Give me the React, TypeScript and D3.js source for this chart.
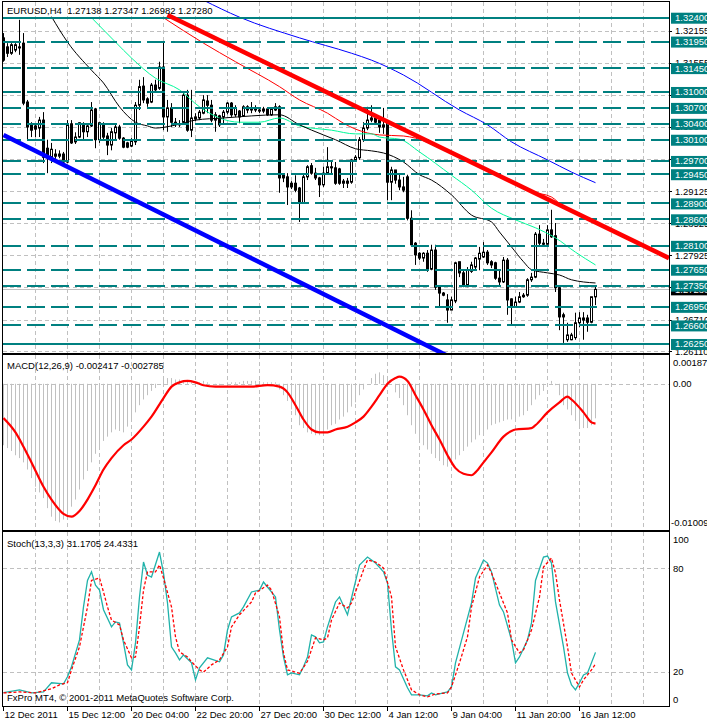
import React from 'react';
import * as d3 from 'd3';

// chart header texts
const chartTitle = 'EURUSD,H4  1.27138 1.27347 1.26982 1.27280';
const macdTitle = 'MACD(12,26,9) -0.002417 -0.002785';
const stochTitle = 'Stoch(13,3,3) 31.1705 24.4331';
const copyright = 'FxPro MT4, \u00a9 2001-2011 MetaQuotes Software Corp.';

// time axis
const timeLabels = ['12 Dec 2011', '15 Dec 12:00', '20 Dec 04:00', '22 Dec 20:00', '27 Dec 20:00',
  '30 Dec 12:00', '4 Jan 12:00', '9 Jan 04:00', '11 Jan 20:00', '16 Jan 12:00'];
const timeLabelBars = [0, 16, 32, 48, 64, 80, 96, 112, 128, 144];

// H4 candles
const openPrices = [
  1.3202, 1.3185, 1.3173, 1.3179, 1.3185, 1.3192, 1.3081, 1.3038, 1.3036, 1.3032,
  1.3047, 1.2994, 1.2977, 1.2983, 1.2979, 1.2983, 1.2968, 1.3040, 1.3006, 1.3015,
  1.3038, 1.3025, 1.3036, 1.3068, 1.3010, 1.3040, 1.3017, 1.3000, 1.3023, 1.3034,
  1.3013, 1.3004, 1.2998, 1.3006, 1.3075, 1.3111, 1.3087, 1.3081, 1.3113, 1.3107,
  1.3147, 1.3053, 1.3070, 1.3043, 1.3040, 1.3043, 1.3094, 1.3028, 1.3049, 1.3051,
  1.3060, 1.3083, 1.3075, 1.3047, 1.3055, 1.3053, 1.3062, 1.3079, 1.3057, 1.3064,
  1.3055, 1.3072, 1.3066, 1.3070, 1.3066, 1.3064, 1.3068, 1.3057, 1.3066, 1.3072,
  1.2944, 1.2940, 1.2928, 1.2928, 1.2919, 1.2891, 1.2940, 1.2961, 1.2947, 1.2938,
  1.2925, 1.2947, 1.2959, 1.2957, 1.2955, 1.2928, 1.2932, 1.2930, 1.2972, 1.2976,
  1.3010, 1.3032, 1.3047, 1.3051, 1.3047, 1.3034, 1.3042, 1.2930, 1.2953, 1.2934,
  1.2921, 1.2940, 1.2862, 1.2815, 1.2796, 1.2787, 1.2796, 1.2766, 1.2802, 1.2732,
  1.2721, 1.2708, 1.2689, 1.2706, 1.2780, 1.2759, 1.2736, 1.2762, 1.2770, 1.2785,
  1.2789, 1.2798, 1.2780, 1.2778, 1.2749, 1.2742, 1.2783, 1.2710, 1.2695, 1.2704,
  1.2714, 1.2717, 1.2746, 1.2751, 1.2832, 1.2815, 1.2813, 1.2840, 1.2829, 1.2731,
  1.2680, 1.2633, 1.2633, 1.2637, 1.2665, 1.2670, 1.2674, 1.2666, 1.27138,
];
const highPrices = [
  1.3211, 1.3192, 1.3192, 1.3192, 1.3236, 1.3211, 1.3085, 1.3043, 1.3041, 1.3053,
  1.3062, 1.3010, 1.3004, 1.2992, 1.2990, 1.2987, 1.3047, 1.3047, 1.3024, 1.3043,
  1.3043, 1.3041, 1.3081, 1.3070, 1.3043, 1.3043, 1.3023, 1.3032, 1.3038, 1.3038,
  1.3015, 1.3006, 1.3013, 1.3081, 1.3123, 1.3128, 1.3090, 1.3117, 1.3123, 1.3157,
  1.3194, 1.3085, 1.3079, 1.3051, 1.3047, 1.3098, 1.3104, 1.3104, 1.3060, 1.3066,
  1.3094, 1.3094, 1.3085, 1.3062, 1.3057, 1.3066, 1.3081, 1.3081, 1.3075, 1.3066,
  1.3075, 1.3075, 1.3081, 1.3075, 1.3070, 1.3072, 1.3070, 1.3070, 1.3079, 1.3075,
  1.2947, 1.2947, 1.2932, 1.2943, 1.2921, 1.2944, 1.2962, 1.2966, 1.2957, 1.2940,
  1.2959, 1.2996, 1.2968, 1.2968, 1.2957, 1.2936, 1.2938, 1.2974, 1.2981, 1.3015,
  1.3043, 1.3072, 1.3075, 1.3055, 1.3051, 1.3070, 1.3043, 1.2959, 1.2953, 1.2947,
  1.2940, 1.2944, 1.2877, 1.2817, 1.2798, 1.2798, 1.2802, 1.2812, 1.2812, 1.2736,
  1.2723, 1.2719, 1.2714, 1.2780, 1.2780, 1.2764, 1.2770, 1.2780, 1.2789, 1.2808,
  1.2817, 1.2802, 1.2783, 1.2780, 1.2764, 1.2789, 1.2787, 1.2711, 1.2714, 1.2723,
  1.2721, 1.2749, 1.2759, 1.2836, 1.2849, 1.2823, 1.2849, 1.2878, 1.2853, 1.2732,
  1.2684, 1.2665, 1.2646, 1.2684, 1.2685, 1.2685, 1.2680, 1.2714, 1.27347,
];
const lowPrices = [
  1.3157, 1.3166, 1.3170, 1.3175, 1.3170, 1.3075, 1.3010, 1.3015, 1.3015, 1.3015,
  1.2966, 1.2947, 1.2966, 1.2970, 1.2975, 1.2959, 1.2966, 1.3002, 1.3002, 1.3013,
  1.3010, 1.3015, 1.3034, 1.2994, 1.3004, 1.3010, 1.2981, 1.2990, 1.3010, 1.3010,
  1.2994, 1.2994, 1.2996, 1.3000, 1.3066, 1.3079, 1.3072, 1.3079, 1.3100, 1.3104,
  1.3028, 1.3025, 1.3034, 1.3034, 1.3034, 1.3041, 1.3025, 1.3015, 1.3045, 1.3047,
  1.3058, 1.3060, 1.3043, 1.3025, 1.3034, 1.3038, 1.3058, 1.3053, 1.3053, 1.3041,
  1.3053, 1.3060, 1.3060, 1.3062, 1.3060, 1.3060, 1.3055, 1.3055, 1.3064, 1.2910,
  1.2930, 1.2887, 1.2917, 1.2911, 1.2855, 1.2889, 1.2934, 1.2944, 1.2934, 1.2902,
  1.2921, 1.2944, 1.2944, 1.2925, 1.2925, 1.2919, 1.2919, 1.2927, 1.2968, 1.2972,
  1.3006, 1.3028, 1.3043, 1.3041, 1.3023, 1.3021, 1.2896, 1.2896, 1.2927, 1.2915,
  1.2911, 1.2858, 1.2808, 1.2774, 1.2783, 1.2780, 1.2761, 1.2764, 1.2727, 1.2695,
  1.2715, 1.2665, 1.2689, 1.2702, 1.2751, 1.2732, 1.2732, 1.2759, 1.2764, 1.2764,
  1.2787, 1.2774, 1.2768, 1.2746, 1.2736, 1.2740, 1.2680, 1.2661, 1.2693, 1.2702,
  1.2712, 1.2714, 1.2742, 1.2749, 1.2808, 1.2808, 1.2812, 1.2825, 1.2723, 1.2651,
  1.2627, 1.2629, 1.2632, 1.2633, 1.2657, 1.2633, 1.2648, 1.2664, 1.26982,
];
const closePrices = [
  1.3160, 1.3173, 1.3189, 1.3189, 1.3183, 1.3079, 1.3034, 1.3028, 1.3030, 1.3047,
  1.2977, 1.2977, 1.2992, 1.2979, 1.2983, 1.2968, 1.3038, 1.3004, 1.3015, 1.3042,
  1.3025, 1.3036, 1.3066, 1.3010, 1.3042, 1.3015, 1.3000, 1.3025, 1.3034, 1.3013,
  1.2996, 1.2996, 1.3008, 1.3075, 1.3110, 1.3085, 1.3079, 1.3113, 1.3104, 1.3147,
  1.3053, 1.3070, 1.3043, 1.3040, 1.3038, 1.3094, 1.3028, 1.3051, 1.3053, 1.3062,
  1.3085, 1.3075, 1.3047, 1.3057, 1.3038, 1.3062, 1.3079, 1.3057, 1.3070, 1.3053,
  1.3072, 1.3066, 1.3070, 1.3066, 1.3064, 1.3068, 1.3057, 1.3068, 1.3072, 1.2938,
  1.2938, 1.2921, 1.2921, 1.2915, 1.2891, 1.2940, 1.2959, 1.2947, 1.2938, 1.2925,
  1.2947, 1.2959, 1.2957, 1.2928, 1.2928, 1.2932, 1.2928, 1.2972, 1.2977, 1.3010,
  1.3032, 1.3047, 1.3051, 1.3043, 1.3034, 1.3038, 1.2930, 1.2953, 1.2934, 1.2921,
  1.2915, 1.2862, 1.2812, 1.2793, 1.2787, 1.2796, 1.2764, 1.2802, 1.2732, 1.2721,
  1.2717, 1.2689, 1.2708, 1.2778, 1.2759, 1.2736, 1.2764, 1.2774, 1.2787, 1.2796,
  1.2798, 1.2778, 1.2774, 1.2749, 1.2742, 1.2783, 1.2708, 1.2695, 1.2704, 1.2714,
  1.2717, 1.2746, 1.2751, 1.2832, 1.2815, 1.2813, 1.2840, 1.2827, 1.2731, 1.2676,
  1.2676, 1.2642, 1.2642, 1.2665, 1.2674, 1.2674, 1.2666, 1.2714, 1.27280,
];
const bidPrice = 1.2728;

// moving averages (bar index, price)
const blackMaBars = [12, 16, 22, 25, 29, 33, 36, 38, 42, 48, 55, 69, 74, 80, 83, 88, 92, 95, 100, 104, 107, 112, 117, 122, 124, 127, 130, 132, 136, 139, 142, 148];
const blackMa = [1.3242, 1.3194, 1.3141, 1.3117, 1.3072, 1.3043, 1.3036, 1.3032, 1.3036, 1.3047, 1.3051, 1.3057, 1.3038, 1.3019, 1.3010, 1.2993, 1.2989, 1.2985, 1.2968, 1.2944, 1.2934, 1.2906, 1.2868, 1.2855, 1.2836, 1.2808, 1.2780, 1.2765, 1.2759, 1.2755, 1.2746, 1.2740];
const greenMaBars = [22, 28, 32, 38, 44, 49, 54, 59, 64, 69, 74, 82, 88, 92, 94, 99, 104, 112, 117, 122, 128, 133, 138, 143, 148];
const greenMa = [1.3240, 1.3194, 1.3164, 1.3126, 1.3104, 1.3072, 1.3051, 1.3043, 1.3043, 1.3051, 1.3036, 1.3028, 1.3021, 1.3021, 1.3015, 1.3011, 1.2987, 1.2943, 1.2915, 1.2881, 1.2859, 1.2844, 1.2825, 1.2798, 1.2774];
const redMaBars = [40, 50, 58, 69, 74, 81, 85, 88, 94, 100, 103, 110, 120, 125, 132, 137, 140, 148];
const redMa = [1.3240, 1.3192, 1.3157, 1.3110, 1.3085, 1.3060, 1.3041, 1.3030, 1.3019, 1.3017, 1.3013, 1.2991, 1.2957, 1.2938, 1.2912, 1.2902, 1.2883, 1.2859];
const blueMaBars = [50, 59, 74, 87, 92, 100, 114, 121, 127, 136, 142, 148];
const blueMa = [1.3273, 1.3241, 1.3202, 1.3173, 1.3160, 1.3132, 1.3066, 1.3038, 1.3006, 1.2972, 1.2949, 1.2929];

// trend lines: two anchor points each (bar, price), drawn as rays
const redTrendBars = [41, 148];
const redTrendPrices = [1.3245, 1.2854];
const blueTrendBars = [0, 100];
const blueTrendPrices = [1.3019, 1.2644];

// horizontal levels
const levelPrices = [1.3240, 1.3195, 1.3145, 1.3100, 1.3070, 1.3040, 1.3010, 1.2970, 1.2945,
  1.2890, 1.2860, 1.2810, 1.2765, 1.2735, 1.2695, 1.2660, 1.2625];
const solidLevels = [1.3240, 1.2625];

// price scale labels
const priceTickLabels = ['1.32155', '1.31555', '1.30945', '1.30340', '1.29735', '1.29125',
  '1.28525', '1.27925', '1.27320', '1.26710', '1.26110'];

// MACD histogram (one value per bar)
const macdMain = [
  -0.0043, -0.0045, -0.0047, -0.0050, -0.0052, -0.0055, -0.0060, -0.0066, -0.0072, -0.0076,
  -0.0080, -0.0087, -0.0093, -0.0096, -0.0097, -0.0095, -0.0092, -0.0086, -0.0081, -0.0074,
  -0.0067, -0.0061, -0.0055, -0.0049, -0.0044, -0.0040, -0.0037, -0.0034, -0.0032, -0.0033,
  -0.0034, -0.0030, -0.0025, -0.0020, -0.0015, -0.0011, -0.0008, -0.0005, -0.0003, 0.0000,
  0.0003, 0.0004, 0.0004, 0.0003, 0.0003, 0.0002, 0.0002, 0.0001, 0.0001, 0.0001,
  0.0002, 0.0001, 0.0000, -0.0001, -0.0001, 0.0000, 0.0001, 0.0001, 0.0001, 0.0001,
  0.0002, 0.0002, 0.0002, 0.0002, 0.0002, 0.0001, 0.0001, 0.0001, 0.0001, -0.0004,
  -0.0008, -0.0012, -0.0018, -0.0022, -0.0029, -0.0031, -0.0034, -0.0035, -0.0036, -0.0036,
  -0.0034, -0.0032, -0.0029, -0.0028, -0.0025, -0.0023, -0.0020, -0.0016, -0.0013, -0.0008,
  -0.0004, 0.0000, 0.0004, 0.0007, 0.0008, 0.0006, 0.0004, 0.0000, -0.0006, -0.0010,
  -0.0015, -0.0022, -0.0029, -0.0035, -0.0039, -0.0043, -0.0046, -0.0049, -0.0052, -0.0054,
  -0.0057, -0.0058, -0.0057, -0.0053, -0.0050, -0.0047, -0.0044, -0.0041, -0.0039, -0.0036,
  -0.0034, -0.0032, -0.0029, -0.0028, -0.0027, -0.0026, -0.0025, -0.0025, -0.0024, -0.0023,
  -0.0022, -0.0019, -0.0015, -0.0011, -0.0008, -0.0005, -0.0002, 0.0002, -0.0001, -0.0008,
  -0.0015, -0.0018, -0.0022, -0.0026, -0.0031, -0.0031, -0.0031, -0.0029, -0.002417,
];
const macdSignalBars = [0, 3, 5, 7, 10, 12, 15, 17, 19, 21, 23, 25, 27, 30, 32, 35, 37, 40, 42, 44,
  46, 48, 50, 53, 57, 62, 66, 69, 71, 73, 75, 77, 79, 81, 83, 86, 88, 90, 92, 94,
  96, 98, 99, 101, 103, 105, 107, 109, 111, 113, 115, 117, 118, 120, 122, 125, 127, 128, 132, 133,
  136, 139, 141, 142, 145, 147, 148];
const macdSignal = [-0.0024, -0.0034, -0.0044, -0.0055, -0.0072, -0.0081, -0.0091, -0.0093, -0.0089, -0.0081,
  -0.0071, -0.0060, -0.0052, -0.0043, -0.0039, -0.0030, -0.0023, -0.0010, -0.0002, 0.0001,
  0.0002, 0.0001, -0.0001, -0.0002, -0.0002, -0.0002, -0.0001, -0.0002, -0.0006, -0.0015,
  -0.0025, -0.0032, -0.0034, -0.0034, -0.0032, -0.0030, -0.0027, -0.0023, -0.0016, -0.0008,
  0.0000, 0.0004, 0.0005, 0.0002, -0.0008, -0.0018, -0.0029, -0.0039, -0.0050, -0.0059,
  -0.0063, -0.0064, -0.0062, -0.0055, -0.0048, -0.0037, -0.0033, -0.0032, -0.0031, -0.0029,
  -0.0020, -0.0013, -0.0009, -0.0011, -0.0020, -0.0027, -0.002785];

// Stochastic %K and %D (bar index, value)
const stochMainBars = [0, 4, 7, 10, 12, 15, 16, 17, 19, 20, 21, 22, 23, 24, 25, 27, 28, 29, 30, 31,
  32, 33, 34, 35, 36, 37, 39, 40, 41, 42, 43, 44, 45, 47, 48, 49, 51, 54, 55, 56,
  57, 59, 60, 62, 64, 65, 66, 68, 69, 70, 71, 72, 74, 75, 76, 77, 78, 79, 80, 81,
  83, 84, 86, 87, 89, 91, 92, 93, 95, 96, 97, 98, 99, 101, 102, 104, 106, 107, 108, 110,
  111, 112, 113, 115, 117, 118, 120, 121, 122, 124, 125, 127, 128, 129, 131, 132, 133, 135, 136, 137,
  138, 140, 141, 142, 143, 144, 145, 146, 148];
const stochMain = [7.8, 9.4, 7.6, 8.2, 13.5, 12.9, 17, 22.8, 38.4, 57.6,
  73, 78, 70.3, 67.4, 56, 46, 48.9, 48.3, 36.7, 23.9,
  21, 36.7, 63.4, 83.7, 76.1, 75, 89.5, 77.3, 59.9, 34.4,
  30.9, 26.8, 29.7, 25.1, 15.2, 22.2, 28, 25.7, 29.7, 44.2,
  51.8, 54.1, 57.6, 66.3, 67.4, 72.1, 69.2, 63.4, 44.2, 28.5,
  18.1, 19.2, 18.1, 22.8, 28.5, 41.3, 40.2, 36.7, 37.3, 46,
  60.5, 63.4, 53, 62.8, 82, 86.6, 84.9, 83.1, 78, 71.5,
  44.2, 22.8, 21, 10.6, 6.5, 6.5, 5.9, 7.6, 6.5, 7.6,
  8.2, 11.1, 25.1, 42.5, 59.9, 74.4, 84.9, 83.1, 78, 58.7,
  54.7, 38.4, 25.1, 28.5, 38.4, 48.3, 73, 86.6, 87.2, 83.1,
  60.5, 34.4, 19.2, 12.3, 9.4, 13.5, 18.1, 19.2, 31.1705];
const stochSignalBars = [0, 4, 8, 12, 14, 16, 17, 19, 21, 22, 24, 25, 26, 27, 29, 30, 32, 33, 34, 35,
  36, 38, 39, 40, 42, 43, 44, 46, 47, 49, 50, 52, 54, 56, 57, 59, 62, 63, 66, 67,
  69, 70, 71, 74, 76, 78, 80, 81, 82, 84, 86, 87, 90, 91, 93, 95, 97, 98, 100, 102,
  104, 106, 108, 111, 112, 114, 116, 117, 119, 121, 122, 124, 126, 127, 129, 130, 132, 134, 135, 137,
  138, 139, 141, 142, 144, 145, 147, 148];
const stochSignal = [7.6, 8.2, 7.6, 10, 12.3, 13.5, 21, 34.4, 57.6, 73,
  74.4, 66.3, 57.6, 50, 47.1, 38.4, 28, 28.5, 46, 67.4,
  78, 78, 82, 74.4, 57.6, 40.2, 31.5, 28.5, 25.7, 21,
  19.7, 23.9, 26.8, 34.4, 46, 53, 60.5, 65.7, 70.3, 67.4,
  51.8, 30.9, 21, 19, 26, 39.6, 38.4, 39.6, 50, 59.9,
  57, 59.9, 79.1, 84.9, 83.7, 80.2, 63.4, 34.4, 21, 9.4,
  6.5, 5.3, 7, 7.6, 11.1, 25.1, 40.2, 57.6, 75, 82,
  77.3, 65.7, 54.1, 38.4, 30.9, 32.6, 44.2, 63.4, 80.8, 86,
  77.3, 61.6, 34.4, 19.2, 11.1, 15.2, 21, 24.4331];
const stochLevels = [80, 20];

const FONT = "'Liberation Sans', Arial, sans-serif";
const TEAL = '#008080';
const GRID = '#c0c0c0';

const W = 707;
const H = 723;
const LEFT = 3;
const RIGHT = 669;
const main = { top: 2, bottom: 353 };
const macdBox = { top: 355, bottom: 530 };
const stochBox = { top: 532, bottom: 706 };

const x = d3.scaleLinear().domain([0, 166]).range([3.5, 3.5 + 4 * 166]);
const yPrice = d3.scaleLinear().domain([1.2608, 1.32696]).range([main.bottom, main.top]);
const yMacd = d3.scaleLinear().domain([-0.01009, 0.001873]).range([528, 357]);
const yStoch = d3.scaleLinear().domain([0, 100]).range([706, 534]);

type P = [number, number];
const zip = (bars: number[], vals: number[]): P[] => bars.map((b, i) => [b, vals[i]]);

const priceLine = d3.line<P>().x(d => x(d[0])).y(d => yPrice(d[1])).curve(d3.curveMonotoneX);
const macdLine = d3.line<P>().x(d => x(d[0])).y(d => yMacd(d[1])).curve(d3.curveMonotoneX);
const stochLine = d3.line<P>().x(d => x(d[0])).y(d => yStoch(d[1]));

// extend a two point trend line to the right edge of the plot
function ray(bars: number[], prices: number[]) {
  const x1 = x(bars[0]), y1 = yPrice(prices[0]);
  const x2 = x(bars[1]), y2 = yPrice(prices[1]);
  const slope = (y2 - y1) / (x2 - x1);
  return { x1, y1, x2: RIGHT, y2: y1 + slope * (RIGHT - x1) };
}

const gridBars = d3.range(8, 161, 8);

const App: React.FC = () => {
  const redRay = ray(redTrendBars, redTrendPrices);
  const blueRay = ray(blueTrendBars, blueTrendPrices);
  const hLine = (y: number, x1 = LEFT, x2 = RIGHT) => ({ x1, x2, y1: y, y2: y });

  const vGrid = (top: number, bottom: number) =>
    gridBars.map(b => (
      <line key={b} x1={x(b)} x2={x(b)} y1={top} y2={bottom} stroke={GRID} strokeDasharray="4,3" />
    ));

  return (
    <svg width={W} height={H} style={{ position: 'absolute', left: 0, top: 0, background: '#fff' }}
      fontFamily={FONT}>
      <defs>
        <clipPath id="mainClip"><rect x={LEFT} y={main.top} width={RIGHT - LEFT} height={main.bottom - main.top} /></clipPath>
        <clipPath id="macdClip"><rect x={LEFT} y={macdBox.top} width={RIGHT - LEFT} height={macdBox.bottom - macdBox.top} /></clipPath>
        <clipPath id="stochClip"><rect x={LEFT} y={stochBox.top} width={RIGHT - LEFT} height={stochBox.bottom - stochBox.top} /></clipPath>
      </defs>
      <rect width={W} height={H} fill="#fff" />

      {/* ---------- price panel ---------- */}
      <g clipPath="url(#mainClip)">
        {vGrid(main.top, main.bottom)}
        {priceTickLabels.map(t => (
          <line key={t} {...hLine(Math.round(yPrice(+t)) + 0.5)} stroke={GRID} strokeDasharray="4,3" />
        ))}
        <line {...hLine(Math.round(yPrice(bidPrice)) + 0.5)} stroke="#c0c0c0" />

        {openPrices.map((o, i) => {
          const c = closePrices[i];
          const cx = x(i);
          const top = yPrice(Math.max(o, c));
          const bot = yPrice(Math.min(o, c));
          const bull = c >= o;
          return (
            <g key={i}>
              <line x1={cx} x2={cx} y1={yPrice(highPrices[i])} y2={yPrice(lowPrices[i])} stroke="#000" />
              <rect x={cx - 1} y={top} width={2} height={Math.max(bot - top, 0.5)}
                fill={bull ? '#fff' : '#000'} stroke="#000" />
            </g>
          );
        })}

        <path d={priceLine(zip(blueMaBars, blueMa)) || ''} fill="none" stroke="#0000ff" />
        <path d={priceLine(zip(redMaBars, redMa)) || ''} fill="none" stroke="#ff0000" />
        <path d={priceLine(zip(greenMaBars, greenMa)) || ''} fill="none" stroke="#00fa9a" />
        <path d={priceLine(zip(blackMaBars, blackMa)) || ''} fill="none" stroke="#000" />

        {levelPrices.map(p => {
          const y = Math.round(yPrice(p));
          const solid = solidLevels.includes(p);
          return (
            <line key={p} {...hLine(y)} stroke={TEAL} strokeWidth={2}
              strokeDasharray={solid ? undefined : '18,6'} />
          );
        })}

        <line {...redRay} stroke="#ff0000" strokeWidth={4.5} />
        <line {...blueRay} stroke="#0000ff" strokeWidth={4.5} />
      </g>
      <text x={7} y={14} fontSize={9.5} fill="#000" xmlSpace="preserve">{chartTitle}</text>

      {/* price axis */}
      {priceTickLabels.map(t => {
        const y = yPrice(+t);
        return (
          <g key={t}>
            <line x1={RIGHT} x2={RIGHT + 3} y1={Math.round(y) + 0.5} y2={Math.round(y) + 0.5} stroke="#000" />
            <text x={675} y={y + 3.5} fontSize={9.5} fill="#000">{t}</text>
          </g>
        );
      })}
      <rect x={671} y={yPrice(bidPrice) - 5} width={40} height={11} fill="#000" />
      <text x={675} y={yPrice(bidPrice) + 3.5} fontSize={9.5} fill="#fff">{bidPrice.toFixed(5)}</text>
      {levelPrices.map(p => {
        const y = yPrice(p);
        return (
          <g key={p}>
            <rect x={671} y={y - 5} width={40} height={11} fill={TEAL} />
            <text x={675} y={y + 3.5} fontSize={9.5} fill="#fff">{p.toFixed(5)}</text>
          </g>
        );
      })}

      {/* ---------- MACD panel ---------- */}
      <g clipPath="url(#macdClip)">
        {vGrid(macdBox.top, macdBox.bottom)}
        <line {...hLine(Math.round(yMacd(0)) + 0.5)} stroke={GRID} strokeDasharray="4,3" />
        {macdMain.map((v, i) => (
          <line key={i} x1={x(i)} x2={x(i)} y1={yMacd(0)} y2={yMacd(v)} stroke="#c0c0c0" />
        ))}
        <path d={macdLine(zip(macdSignalBars, macdSignal)) || ''} fill="none" stroke="#ff0000" strokeWidth={2.2} />
      </g>
      <text x={7} y={369} fontSize={9.5} fill="#000">{macdTitle}</text>
      <text x={673} y={366} fontSize={9.5} fill="#000">0.001873</text>
      <text x={673} y={yMacd(0) + 3.5} fontSize={9.5} fill="#000">0.00</text>
      <text x={671} y={526} fontSize={9.5} fill="#000">-0.010095</text>

      {/* ---------- Stochastic panel ---------- */}
      <g clipPath="url(#stochClip)">
        {vGrid(stochBox.top, stochBox.bottom)}
        {stochLevels.map(l => (
          <line key={l} {...hLine(Math.round(yStoch(l)) + 0.5)} stroke={GRID} strokeDasharray="4,3" />
        ))}
        <path d={stochLine(zip(stochMainBars, stochMain)) || ''} fill="none" stroke="#20b2aa" strokeWidth={1.3} />
        <path d={stochLine(zip(stochSignalBars, stochSignal)) || ''} fill="none" stroke="#ff0000"
          strokeWidth={1.3} strokeDasharray="3,2" />
      </g>
      <text x={7} y={546.5} fontSize={9.5} fill="#000">{stochTitle}</text>
      <text x={7} y={700.5} fontSize={9.5} fill="#000">{copyright}</text>
      <text x={673} y={543} fontSize={9.5} fill="#000">100</text>
      {stochLevels.map(l => (
        <text key={l} x={673} y={yStoch(l) + 3.5} fontSize={9.5} fill="#000">{l}</text>
      ))}
      <text x={673} y={703} fontSize={9.5} fill="#000">0</text>

      {/* panel frames */}
      {[main, macdBox, stochBox].map((b, i) => (
        <rect key={i} x={LEFT - 0.5} y={b.top - 0.5} width={RIGHT - LEFT + 1} height={b.bottom - b.top + 1}
          fill="none" stroke="#000" />
      ))}

      {/* time axis */}
      {timeLabelBars.map((b, i) => {
        const tx = Math.floor(x(b)) + 0.5;
        return (
          <g key={b}>
            <line x1={tx} x2={tx} y1={stochBox.bottom} y2={stochBox.bottom + 5} stroke="#000" />
            <text x={tx + 1} y={717.5} fontSize={9.5} fill="#000">{timeLabels[i]}</text>
          </g>
        );
      })}
    </svg>
  );
};

export default App;
